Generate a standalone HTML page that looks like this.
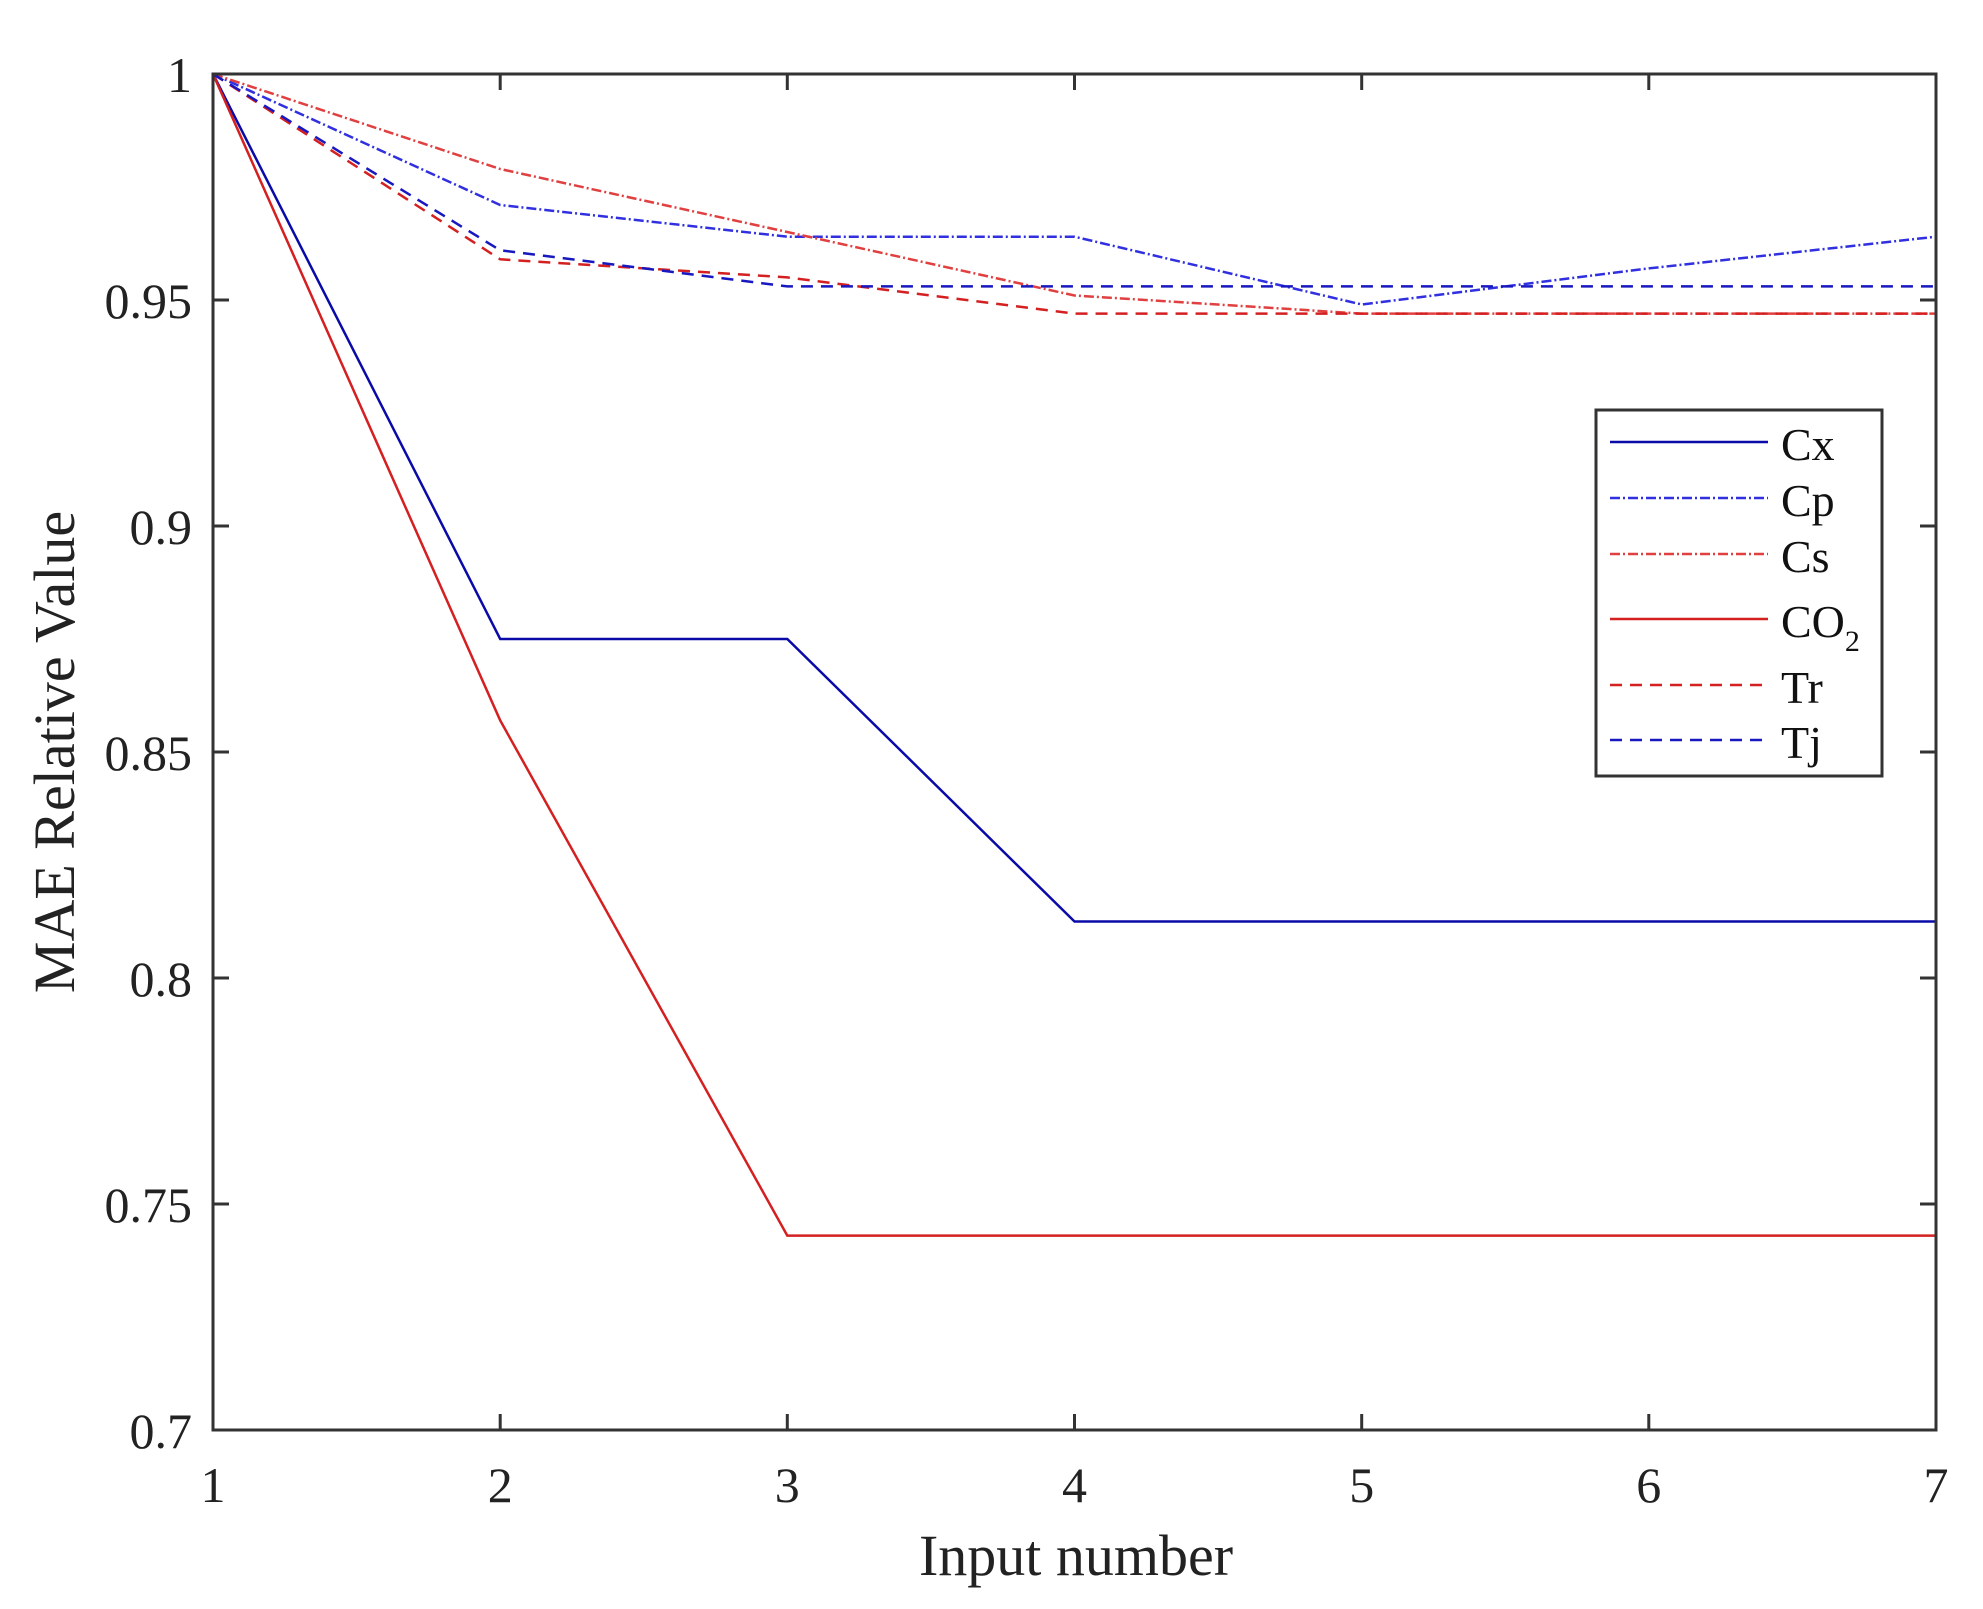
<!DOCTYPE html>
<html><head><meta charset="utf-8"><style>html,body{margin:0;padding:0;background:#fff}</style></head>
<body>
<svg width="1983" height="1604" xmlns="http://www.w3.org/2000/svg" font-family="Liberation Serif, serif">
<rect width="1983" height="1604" fill="#fff"/>
<g fill="none" stroke-width="2.5">
<polyline stroke="#0a0aa8" points="213,74 500.2,639 787.3,639 1074.5,921.5 1361.7,921.5 1648.8,921.5 1936,921.5"/>
<polyline stroke="#d42020" points="213,74 500.2,720.4 787.3,1235.6 1074.5,1235.6 1361.7,1235.6 1648.8,1235.6 1936,1235.6"/>
<polyline stroke="#3030e0" stroke-dasharray="10,3,2,3" points="213,74 500.2,205 787.3,236.7 1074.5,236.7 1361.7,304.5 1648.8,268.4 1936,236.7"/>
<polyline stroke="#e04040" stroke-dasharray="10,3,2,3" points="213,74 500.2,169 787.3,232 1074.5,295.5 1361.7,313.6 1648.8,313.6 1936,313.6"/>
<polyline stroke="#d42020" stroke-dasharray="12,8" points="213,74 500.2,259.3 787.3,277.4 1074.5,313.6 1361.7,313.6 1648.8,313.6 1936,313.6"/>
<polyline stroke="#1818c0" stroke-dasharray="12,8" points="213,74 500.2,250.3 787.3,286.4 1074.5,286.4 1361.7,286.4 1648.8,286.4 1936,286.4"/>
</g>
<g stroke="#333" stroke-width="3" fill="none">
<rect x="213" y="74" width="1723" height="1356"/>
<path d="M500.2,1430v-16M787.3,1430v-16M1074.5,1430v-16M1361.7,1430v-16M1648.8,1430v-16M500.2,74v16M787.3,74v16M1074.5,74v16M1361.7,74v16M1648.8,74v16"/>
<path d="M213,300h16M213,526h16M213,752h16M213,978h16M213,1204h16M1936,300h-16M1936,526h-16M1936,752h-16M1936,978h-16M1936,1204h-16"/>
</g>
<g font-size="50" fill="#222" text-anchor="end">
<text x="192" y="92">1</text><text x="192" y="318">0.95</text><text x="192" y="544">0.9</text>
<text x="192" y="770">0.85</text><text x="192" y="996">0.8</text><text x="192" y="1222">0.75</text><text x="192" y="1448">0.7</text>
</g>
<g font-size="50" fill="#222" text-anchor="middle">
<text x="213" y="1502">1</text><text x="500.2" y="1502">2</text><text x="787.3" y="1502">3</text><text x="1074.5" y="1502">4</text>
<text x="1361.7" y="1502">5</text><text x="1648.8" y="1502">6</text><text x="1936" y="1502">7</text>
<text x="1076" y="1575" font-size="58">Input number</text>
<text transform="translate(74,752) rotate(-90)" font-size="58">MAE Relative Value</text>
</g>
<rect x="1596" y="410" width="286" height="366" fill="#fff" stroke="#333" stroke-width="3"/>
<g stroke-width="2.5">
<line x1="1610" y1="442" x2="1768" y2="442" stroke="#0a0aa8"/>
<line x1="1610" y1="498" x2="1768" y2="498" stroke="#3030e0" stroke-dasharray="10,3,2,3"/>
<line x1="1610" y1="554" x2="1768" y2="554" stroke="#e04040" stroke-dasharray="10,3,2,3"/>
<line x1="1610" y1="619" x2="1768" y2="619" stroke="#d42020"/>
<line x1="1610" y1="685" x2="1768" y2="685" stroke="#d42020" stroke-dasharray="12,8"/>
<line x1="1610" y1="740" x2="1768" y2="740" stroke="#1818c0" stroke-dasharray="12,8"/>
</g>
<g font-size="46" fill="#111">
<text x="1781" y="460">Cx</text><text x="1781" y="516">Cp</text><text x="1781" y="572">Cs</text>
<text x="1781" y="637">CO<tspan font-size="30" dy="14">2</tspan></text>
<text x="1781" y="703">Tr</text><text x="1781" y="758">Tj</text>
</g>
</svg>
</body></html>
